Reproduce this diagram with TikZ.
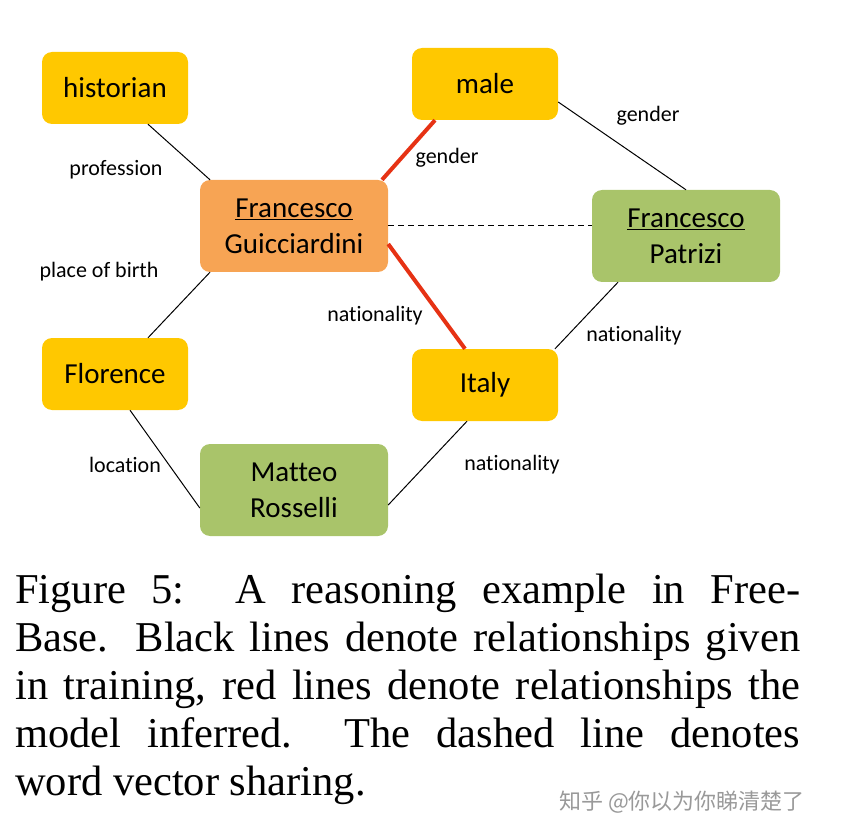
\documentclass[tikz,border=0pt]{standalone}
\usepackage{fontspec}
\setmainfont{Liberation Serif}
\newfontfamily\nodefont{Carlito}[Ligatures=NoCommon]
\newfontfamily\cjkfont{Noto Sans CJK SC}
\definecolor{ycol}{RGB}{255,200,0}
\definecolor{gcol}{RGB}{169,196,106}
\definecolor{ocol}{RGB}{247,164,84}
\definecolor{rcol}{RGB}{230,50,20}
\begin{document}
\begin{tikzpicture}[x=1pt,y=-1pt,
  box/.style={draw=none,rounded corners=10pt,minimum width=146pt,minimum height=72pt,font=\nodefont\fontsize{29}{36}\selectfont,align=center,inner sep=0pt},
  ybox/.style={box,fill=ycol},
  gbox/.style={box,fill=gcol,minimum width=188pt,minimum height=92pt},
  obox/.style={box,fill=ocol,minimum width=188pt,minimum height=92pt},
  lab/.style={font=\nodefont\fontsize{22}{24}\selectfont,inner sep=0pt},
  bl/.style={line width=1pt,black},
  rd/.style={line width=4pt,rcol}]
\useasboundingbox (0,0) rectangle (841,837);
\node[ybox] (hist) at (115,88) {historian};
\node[ybox] (male) at (485,84) {male};
\node[obox] (fg) at (294,226) {\underline{Francesco}\\Guicciardini};
\node[gbox] (fp) at (686,236) {\underline{Francesco}\\Patrizi};
\node[ybox] (flo) at (115,374) {Florence};
\node[ybox] (ita) at (485,385) {Italy};
\node[gbox] (mr) at (294,490) {Matteo\\Rosselli};
\draw[bl] ([xshift=33pt]hist.south) -- ([xshift=-84pt]fg.north);
\draw[bl] ([yshift=-18pt]male.east) -- (fp.north);
\draw[bl,dash pattern=on 6pt off 4pt] (fg) -- (fp.west |- fg);
\draw[bl] ([xshift=-84pt]fg.south) -- ([xshift=33pt]flo.north);
\draw[bl] ([xshift=-68pt]fp.south) -- ([xshift=70pt]ita.north);
\draw[bl] ([xshift=15pt]flo.south) -- ([yshift=-18pt]mr.west);
\draw[bl] ([yshift=-15pt]mr.east) -- ([xshift=-18pt]ita.south);
\draw[rd] ([xshift=-50pt]male.south) -- ([xshift=88pt]fg.north);
\draw[rd] ([yshift=-18pt]fg.east) -- ([xshift=-20pt]ita.north);
\node[lab] (l1) at (116,170) {profession};
\node[lab] (l2) at (648,116) {gender};
\node[lab] (l3) at (447,158) {gender};
\node[lab] (l4) at (99,272) {place of birth};
\node[lab] (l5) at (375,316) {nationality};
\node[lab] (l6) at (634,336) {nationality};
\node[lab] (l7) at (125,465) {location};
\node[lab] (l8) at (512,465) {nationality};
\node[anchor=north west,text width=785pt,align=justify,inner sep=0pt,font=\fontsize{42.5}{48}\selectfont] (cap) at (15,574)
{Figure 5:\ \ A reasoning example in Free-\linebreak Base. Black lines denote relationships given\linebreak in training, red lines denote relationships the\linebreak model inferred.\ \ The dashed line denotes\linebreak word vector sharing.};
\node[font=\cjkfont\fontsize{22}{24}\selectfont,text=gray!80,inner sep=0pt] (wm) at (682,802) {知乎 @你以为你睇清楚了};
\end{tikzpicture}
\end{document}
